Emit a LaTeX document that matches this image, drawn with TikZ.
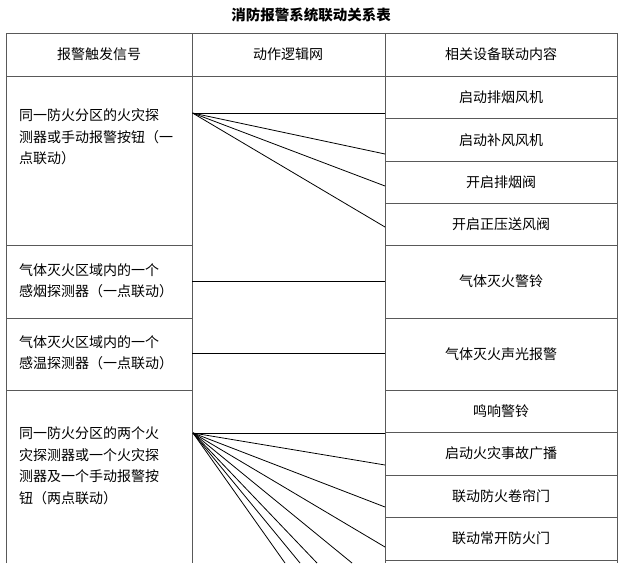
\documentclass[tikz,border=0pt]{standalone}
\usepackage{fontspec}
\setmainfont{Noto Sans CJK SC}
\begin{document}
\begin{tikzpicture}[x=1pt,y=-1pt,
  grid/.style={draw=black!65,line width=0.9pt},
  wire/.style={draw=black,line width=0.8pt},
  txt/.style={font=\fontsize{14}{21.5}\selectfont,inner sep=0pt},
  lt/.style={txt,align=left,anchor=west}]
\useasboundingbox (0,0) rectangle (623,563);
\node[font=\fontsize{14.5}{16}\selectfont\bfseries] (title) at (311,15) {消防报警系统联动关系表};
% grid
\draw[grid] (6,563) -- (6,33) -- (617,33) -- (617,563);
\draw[grid] (192,33) -- (192,563);
\draw[grid] (385,33) -- (385,563);
\draw[grid] (6,76) -- (617,76);
\foreach \y in {245,318,390} \draw[grid] (6,\y) -- (192,\y);
\foreach \y in {118,161,203,245,318,390,432,475,517,560} \draw[grid] (385,\y) -- (617,\y);
% headers
\node[txt] (h1) at (99,54) {报警触发信号};
\node[txt] (h2) at (288,54) {动作逻辑网};
\node[txt] (h3) at (501,54) {相关设备联动内容};
% left
\node[lt] (l1) at (19,137) {同一防火分区的火灾探\\测器或手动报警按钮（一\\点联动）};
\node[lt] (l2) at (19,281) {气体灭火区域内的一个\\感烟探测器（一点联动）};
\node[lt] (l3) at (19,353) {气体灭火区域内的一个\\感温探测器（一点联动）};
\node[lt] (l4) at (19,466) {同一防火分区的两个火\\灾探测器或一个火灾探\\测器及一个手动报警按\\钮（两点联动）};
% right
\node[txt] (r1) at (501,97) {启动排烟风机};
\node[txt] (r2) at (501,140) {启动补风风机};
\node[txt] (r3) at (501,182) {开启排烟阀};
\node[txt] (r4) at (501,224) {开启正压送风阀};
\node[txt] (r5) at (501,281) {气体灭火警铃};
\node[txt] (r6) at (501,354) {气体灭火声光报警};
\node[txt] (r7) at (501,411) {鸣响警铃};
\node[txt] (r8) at (501,453) {启动火灾事故广播};
\node[txt] (r9) at (501,496) {联动防火卷帘门};
\node[txt] (r10) at (501,538) {联动常开防火门};
% wires
\coordinate (o1) at (192.5,113);
\coordinate (o4) at (193,433);
\foreach \y in {113,154,186,227} \draw[wire] (o1) -- (385,\y);
\draw[wire] (192,281) -- (385,281);
\draw[wire] (192,353) -- (385,353);
\foreach \y in {433,465,507,547} \draw[wire] (o4) -- (385,\y);
\begin{scope}
\clip (0,0) rectangle (623,563);
\foreach \x in {285,300,317,352} \draw[wire] (o4) -- (\x,563);
\end{scope}
\end{tikzpicture}
\end{document}
